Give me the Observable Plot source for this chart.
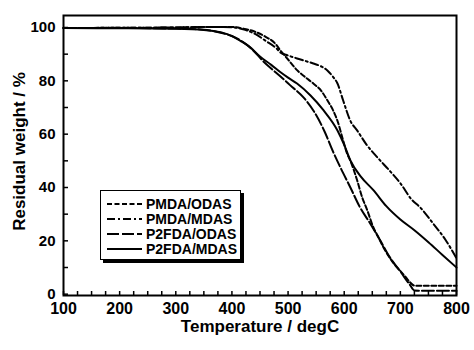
<!DOCTYPE html>
<html>
<head>
<meta charset="utf-8">
<script src="https://cdn.jsdelivr.net/npm/d3@7"></script>
<script src="https://cdn.jsdelivr.net/npm/@observablehq/plot@0.6"></script>
<style>
  html, body { margin: 0; padding: 0; background: #fff; }
  #wrap { position: relative; width: 474px; height: 350px; font-family: "Liberation Sans", Arial, sans-serif; }
  #legend { position: absolute; left: 100px; top: 190px; width: 139px; height: 68px;
    border: 1.5px solid #000; box-shadow: 3px 3px 0 #000; background: #fff; box-sizing: content-box; }
  .row { position: absolute; left: 0; height: 15px; display: flex; align-items: center; }
  .row svg { margin-left: 6px; margin-right: 3px; }
  .row span { font-weight: bold; font-size: 14px; color: #000; }
</style>
</head>
<body>
<div id="wrap"></div>
<script>
// ---- data ----
const seriesNames = ["PMDA/ODAS", "PMDA/MDAS", "P2FDA/ODAS", "P2FDA/MDAS"];

const tempPMDA_ODAS = [100,200,300,350,400,420,440,460,477,486,500,516,530,545,560,570,580,588,598,605,611,623,632,641,652,661,670,681,690,700,710,717,725,740,760,780,800];
const wtPMDA_ODAS   = [99.8,99.9,100,100.2,100.2,99.6,98.5,96.5,94,91.5,88,84,81.5,79,76,72.7,69,65,57.7,52.8,50,42.7,36.3,31.5,25,21.3,17.5,13.7,11,8.7,6.3,4.5,3.2,3.2,3.2,3.2,3.2];

const tempPMDA_MDAS = [100,200,300,350,400,420,442,460,480,486,500,516,530,545,560,570,580,588,598,611,623,640,659,680,700,720,735,758,780,800];
const wtPMDA_MDAS   = [99.8,99.9,100,100.2,100.1,99.3,97.5,95,92,90.7,89.5,88.4,87.5,86.5,85.3,83.9,81.5,79,72.7,65,61.4,56,51.3,46.5,41.6,35.5,32.6,26.6,20.5,13.5];

const tempP2FDA_ODAS = [100,200,300,350,380,400,420,438,455,474,490,504,527,545,565,580,593,611,628,646,664,681,700,717,725,740,760,780,800];
const wtP2FDA_ODAS   = [99.8,99.8,99.6,99.2,98,96.8,94.5,91.4,87.5,83.9,81,78.3,73.9,68.9,61,53.5,47.6,40,32.6,26.6,20.2,13.9,8.5,3.5,1.4,1.3,1.3,1.3,1.3];

const tempP2FDA_MDAS = [100,200,300,350,380,400,415,430,451,470,486,500,516,540,563,588,600,611,630,652,675,700,725,750,775,800];
const wtP2FDA_MDAS   = [99.8,99.7,99.5,99.1,98.2,96.8,95,93,88.9,86,83.3,81.2,79,74.5,69,61.4,56,50.2,44,39,33,28,24,19.5,14.7,10];

const xMajorTicks = [100,200,300,400,500,600,700,800];
const xMinorTicks = d3.range(100, 801, 25);
const yMajorTicks = [0,20,40,60,80,100];
const yMinorTicks = d3.range(0, 101, 10);

const xTitle = "Temperature / degC";
const yTitle = "Residual weight / %";

// ---- build ----
const temps = [tempPMDA_ODAS, tempPMDA_MDAS, tempP2FDA_ODAS, tempP2FDA_MDAS];
const wts = [wtPMDA_ODAS, wtPMDA_MDAS, wtP2FDA_ODAS, wtP2FDA_MDAS];
const dashes = ["5,2.5", "8,3,2,3", "12,3", null];

const rows = [];
seriesNames.forEach((s, i) => temps[i].forEach((t, j) => rows.push({series: s, T: t, W: wts[i][j]})));

const lineMarks = seriesNames.map((s, i) =>
  Plot.line(rows.filter(r => r.series === s), {
    x: "T", y: "W", stroke: "#000", strokeWidth: 2,
    strokeDasharray: dashes[i] || undefined, curve: "monotone-x"
  })
);

const chart = Plot.plot({
  width: 474,
  height: 350,
  marginLeft: 63,
  marginRight: 18,
  marginTop: 15,
  marginBottom: 55,
  style: { fontFamily: "'Liberation Sans', Arial, sans-serif", fontWeight: "bold", color: "#000", background: "#fff" },
  x: { domain: [100, 800] },
  y: { domain: [-0.5, 104.5] },
  marks: [
    ...lineMarks,
    Plot.axisX({ticks: xMinorTicks, tickSize: -4, text: null, strokeWidth: 1.5, label: null}),
    Plot.axisX({ticks: xMajorTicks, tickSize: 0, tickPadding: 7, fontSize: 16, fontWeight: "bold", label: null}),
    Plot.axisY({ticks: yMinorTicks, tickSize: -5, text: null, strokeWidth: 1.5, label: null}),
    Plot.axisY({ticks: yMajorTicks, tickSize: 0, tickPadding: 8, fontSize: 15, fontWeight: "bold", label: null}),
    Plot.frame({stroke: "#000", strokeWidth: 2}),
    Plot.text([xTitle], {frameAnchor: "bottom", dy: 36, fontSize: 17, fontWeight: "bold", fill: "#000"}),
    Plot.text([yTitle], {frameAnchor: "left", textAnchor: "middle", rotate: -90, dx: -44, dy: -4, fontSize: 17, fontWeight: "bold", fill: "#000"})
  ]
});

const wrap = document.getElementById("wrap");
wrap.appendChild(chart);

// legend overlay
const legend = document.createElement("div");
legend.id = "legend";
seriesNames.forEach((s, i) => {
  const row = document.createElement("div");
  row.className = "row";
  row.style.top = (5 + i * 15) + "px";
  const svg = d3.create("svg").attr("width", 36).attr("height", 10);
  svg.append("line").attr("x1", 0).attr("x2", 35).attr("y1", 5).attr("y2", 5)
    .attr("stroke", "#000").attr("stroke-width", 2)
    .attr("stroke-dasharray", dashes[i] || null);
  row.appendChild(svg.node());
  const sp = document.createElement("span");
  sp.textContent = s;
  row.appendChild(sp);
  legend.appendChild(row);
});
wrap.appendChild(legend);
</script>
</body>
</html>
